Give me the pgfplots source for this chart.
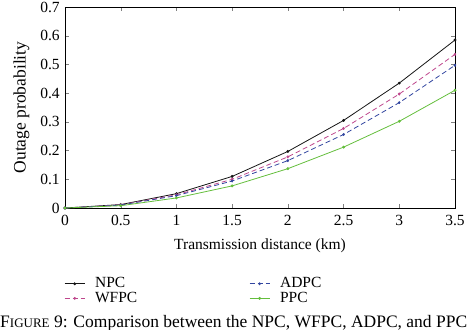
\documentclass[border=0pt]{standalone}
\usepackage{pgfplots}
\pgfplotsset{compat=1.18}
\usepackage{fontspec}
\setmainfont{Liberation Serif}
\definecolor{npc}{RGB}{20,20,20}
\definecolor{wfpc}{RGB}{190,70,140}
\definecolor{adpc}{RGB}{50,70,160}
\definecolor{ppc}{RGB}{100,190,60}
\begin{document}
\fontsize{15.5bp}{18bp}\selectfont
\begin{tikzpicture}
\useasboundingbox (-65bp,-122bp) rectangle (409bp,208bp);
\begin{axis}[
  at={(0,0)}, anchor=south west,
  scale only axis, width=390bp, height=201bp,
  xmin=0, xmax=3.5, ymin=0, ymax=0.7,
  xtick={0,0.5,...,3.5}, ytick={0,0.1,...,0.7},
  xticklabels={0,0.5,1,1.5,2,2.5,3,3.5},
  yticklabels={0,0.1,0.2,0.3,0.4,0.5,0.6,0.7},
  tick align=inside, major tick length=4bp,
  tick label style={font=\fontsize{15.5bp}{18bp}\selectfont},
  xticklabel style={yshift=-2bp},
  label style={font=\fontsize{15.5bp}{18bp}\selectfont},
  xlabel={Transmission distance (km)},
  ylabel={Outage probability},
  xlabel style={at={(axis description cs:0.5,-0.189)}, anchor=center},
  ylabel style={at={(axis description cs:-0.112,0.5)}, anchor=center, font=\fontsize{17.5bp}{20bp}\selectfont},
  legend style={draw=none, fill=none, at={(axis description cs:-0.01,-0.325)}, anchor=north west,
    font=\fontsize{15.5bp}{18bp}\selectfont,
    /tikz/every odd column/.append style={column sep=8bp},
    /tikz/every even column/.append style={column sep=110bp}, row sep=-2bp},
  legend columns=2, transpose legend,
  legend cell align=left,
  legend image code/.code={\draw[mark repeat=2,mark phase=2] plot coordinates {(0bp,0bp) (10bp,0bp) (20bp,0bp)};},
  every axis plot/.append style={line width=0.8pt, mark=*, mark size=1pt},
]
\addplot[color=npc, solid] coordinates {(0,0) (0.5,0.012) (1,0.05) (1.5,0.110) (2,0.197) (2.5,0.305) (3,0.435) (3.5,0.585)};
\addlegendentry{NPC}
\addplot[color=wfpc, dash pattern=on 5pt off 3pt] coordinates {(0,0) (0.5,0.011) (1,0.046) (1.5,0.100) (2,0.178) (2.5,0.277) (3,0.397) (3.5,0.535)};
\addlegendentry{WFPC}
\addplot[color=adpc, dash pattern=on 5pt off 3pt] coordinates {(0,0) (0.5,0.010) (1,0.043) (1.5,0.094) (2,0.165) (2.5,0.256) (3,0.367) (3.5,0.497)};
\addlegendentry{ADPC}
\addplot[color=ppc, solid] coordinates {(0,0) (0.5,0.008) (1,0.035) (1.5,0.077) (2,0.137) (2.5,0.212) (3,0.302) (3.5,0.410)};
\addlegendentry{PPC}
\end{axis}
\node[anchor=base west, inner sep=0pt] at (-65bp,-119bp) {\fontsize{17.5bp}{19bp}\selectfont F{\fontsize{13bp}{14bp}\selectfont IGURE} 9: Comparison between the NPC, WFPC, ADPC, and PPC};
\end{tikzpicture}
\end{document}
